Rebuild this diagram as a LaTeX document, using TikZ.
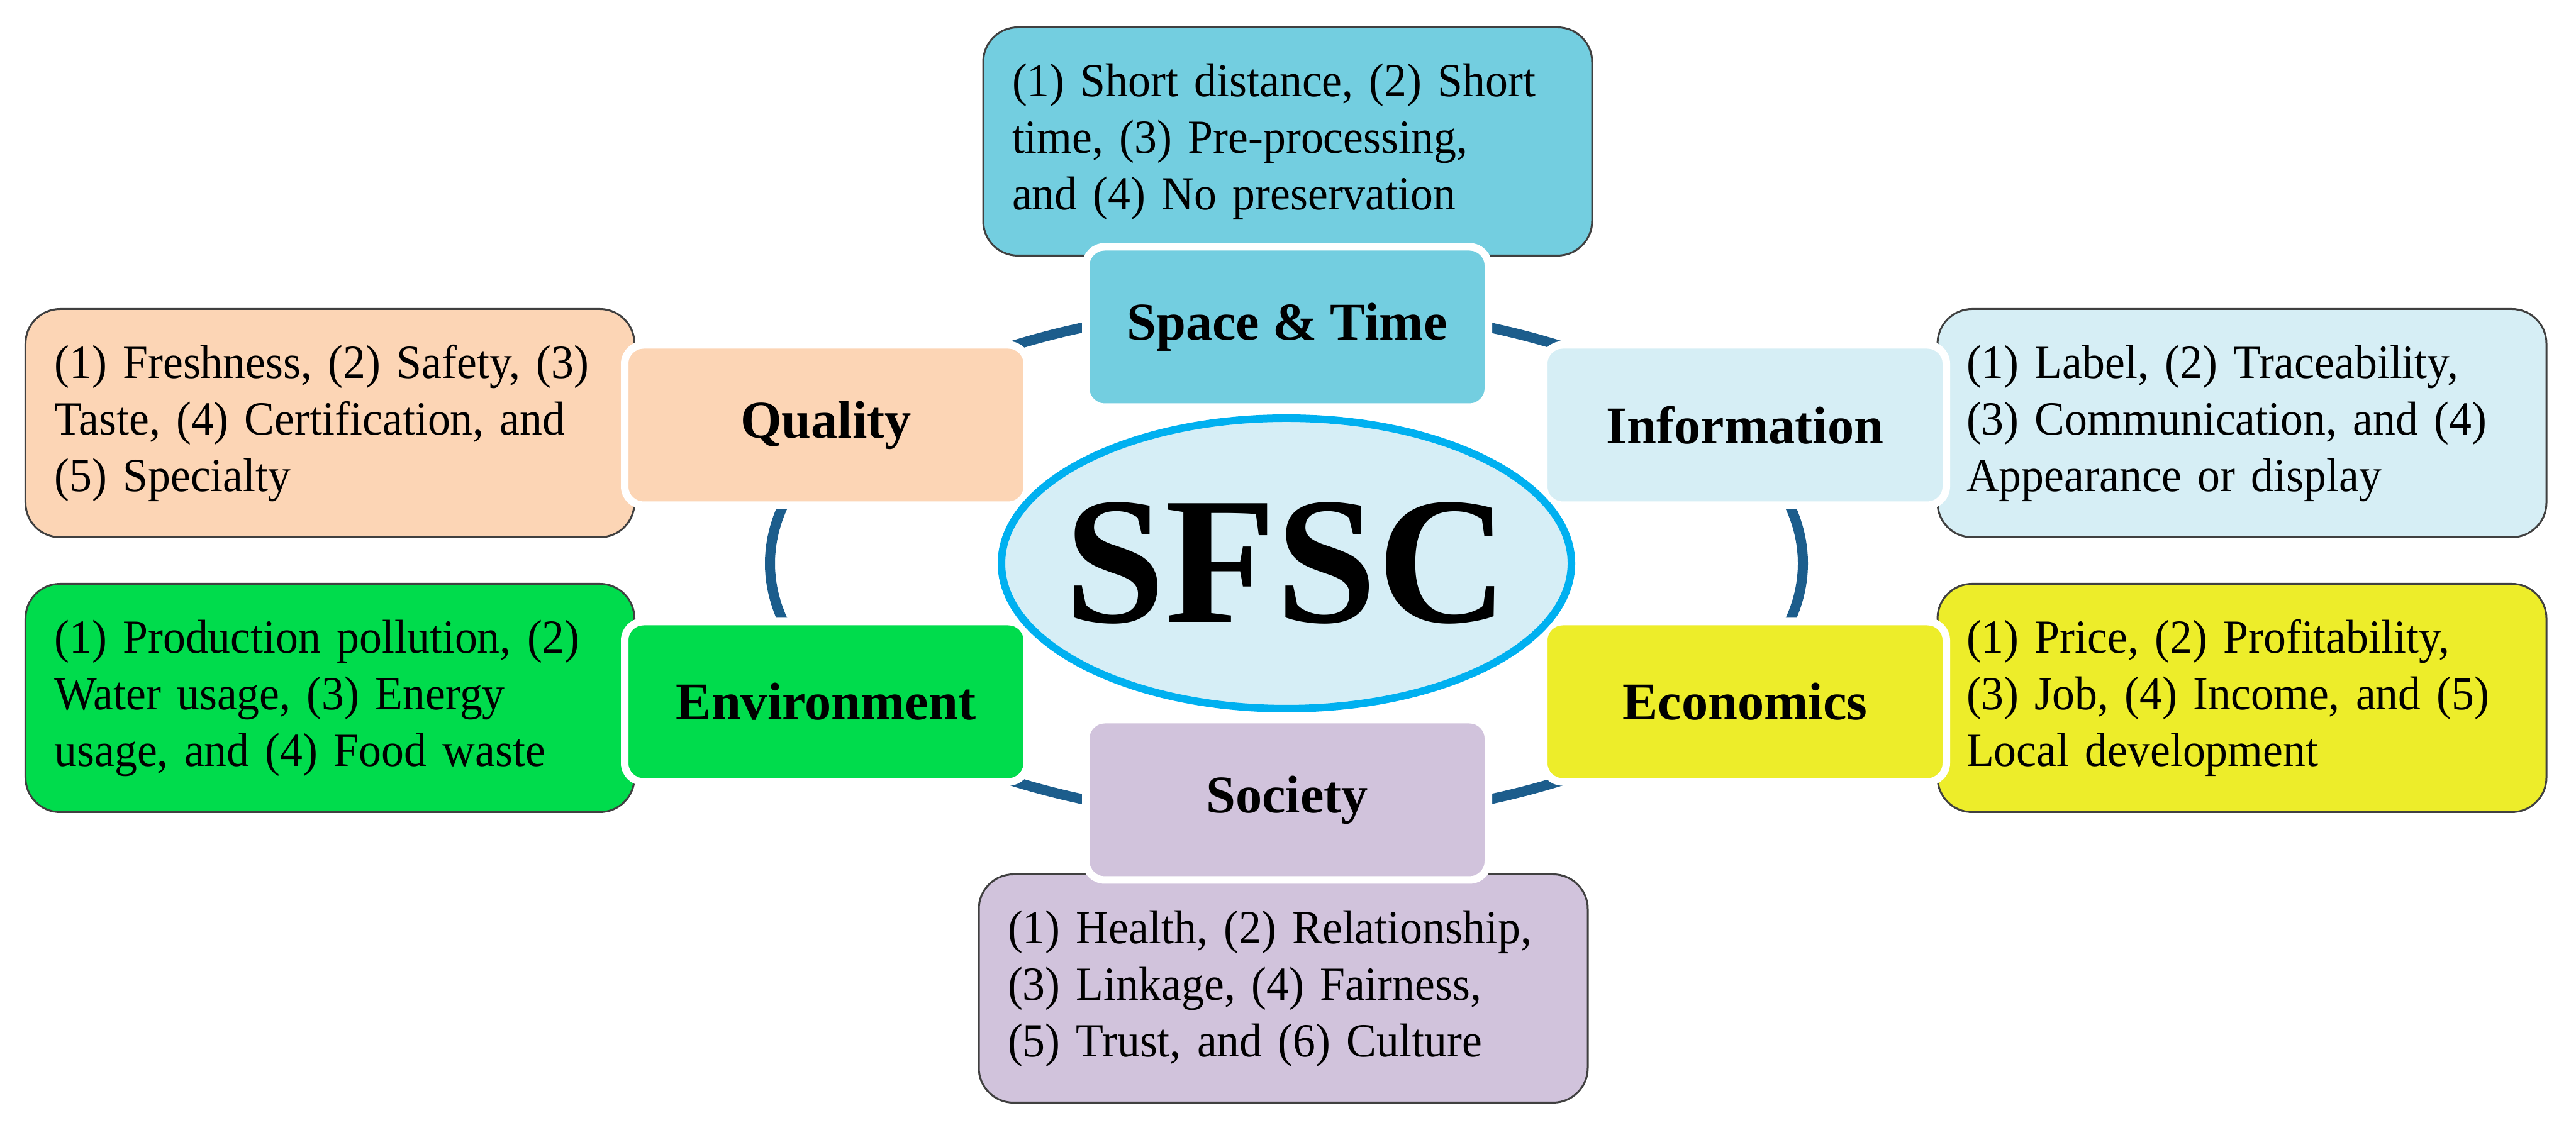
\documentclass[tikz,border=0pt]{standalone}
\usepackage{fontspec}
\setmainfont{Liberation Serif}
\newfontfamily\descfamily[FakeStretch=0.95]{Liberation Serif}
\usepackage{xcolor}
\usetikzlibrary{positioning}
\definecolor{stcol}{RGB}{115,206,224}
\definecolor{qualcol}{RGB}{252,213,181}
\definecolor{infocol}{RGB}{214,238,245}
\definecolor{envcol}{RGB}{0,220,76}
\definecolor{econcol}{RGB}{237,237,42}
\definecolor{soccol}{RGB}{209,195,220}
\definecolor{ringcol}{RGB}{28,93,140}
\definecolor{ellline}{RGB}{0,176,240}
\definecolor{ellfill}{RGB}{214,238,246}
\definecolor{descline}{RGB}{64,64,64}

\begin{document}
\begin{tikzpicture}[
  desc/.style={draw=descline, line width=0.3mm, rounded corners=0.55cm, minimum height=3.63cm,
    text width=8.76cm, inner xsep=0.46cm, align=left, font=\descfamily\fontsize{21.5}{25.6}\selectfont},
  lbl/.style={draw=white, line width=1.2mm, rounded corners=0.3cm, minimum width=6.4cm,
    minimum height=2.55cm, font=\fontsize{24}{28}\selectfont\bfseries}]
\useasboundingbox (0,0) rectangle (40.95,18.05);
\coordinate (c) at (20.45,9.09);
% ring behind the boxes
\draw[ringcol, line width=1.6mm] (c) ellipse (8.21 and 4.08);
% description boxes
\node[desc, fill=stcol] (stdesc) at (20.47,15.80) {(1) Short distance, (2) Short\\time, (3) Pre-processing,\\and (4) No preservation};
\node[desc, fill=qualcol] (qualdesc) at (5.245,11.32) {(1) Freshness, (2) Safety, (3)\\Taste, (4) Certification, and\\(5) Specialty};
\node[desc, fill=infocol] (infodesc) at (35.64,11.32) {(1) Label, (2) Traceability,\\(3) Communication, and (4)\\Appearance or display};
\node[desc, fill=envcol] (envdesc) at (5.245,6.95) {(1) Production pollution, (2)\\Water usage, (3) Energy\\usage, and (4) Food waste};
\node[desc, fill=econcol] (econdesc) at (35.64,6.95) {(1) Price, (2) Profitability,\\(3) Job, (4) Income, and (5)\\Local development};
\node[desc, fill=soccol] (socdesc) at (20.40,2.33) {(1) Health, (2) Relationship,\\(3) Linkage, (4) Fairness,\\(5) Trust, and (6) Culture};
% label boxes
\node[lbl, fill=stcol] (st) at (20.46,12.85) {Space \& Time};
\node[lbl, fill=qualcol] (qual) at (13.13,11.29) {Quality};
\node[lbl, fill=infocol] (info) at (27.74,11.29) {Information};
\node[lbl, fill=envcol] (env) at (13.13,6.89) {Environment};
\node[lbl, fill=econcol] (econ) at (27.74,6.89) {Economics};
\node[lbl, fill=soccol] (soc) at (20.46,5.33) {Society};
% centre
\draw[ellline, fill=ellfill, line width=1.2mm] (c) ellipse (4.53 and 2.31);
\node[font=\fontsize{82}{82}\selectfont\bfseries] (sfsc) at (c) {SFSC};
\end{tikzpicture}
\end{document}
